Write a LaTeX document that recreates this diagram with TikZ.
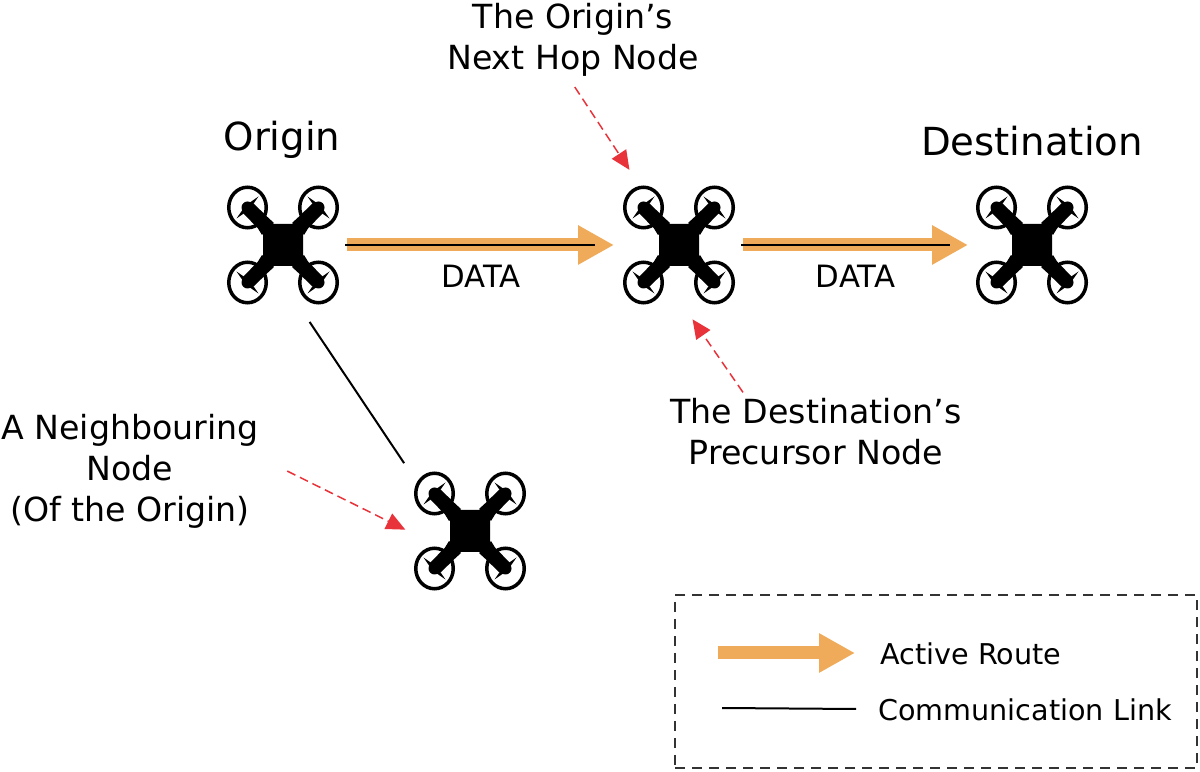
\documentclass[tikz,border=0pt]{standalone}
\usepackage{fontspec}
\setmainfont{DejaVu Sans}
\usepackage{tikz}
\usetikzlibrary{arrows.meta}
\usetikzlibrary{positioning}
\definecolor{routeorange}{HTML}{EFAB5A}
\definecolor{hintred}{HTML}{E8333A}
\tikzset{>=latex}
\tikzset{
  dronebox/.style={rectangle,minimum size=2.48cm,inner sep=0pt,outer sep=0pt},
  bigtext/.style={align=center,font=\fontsize{22pt}{26pt}\selectfont},
  smalltext/.style={align=center,font=\fontsize{18.9pt}{23.4pt}\selectfont},
  datatext/.style={black,font=\fontsize{17.5pt}{20pt}\selectfont},
  legendtext/.style={font=\fontsize{16.3pt}{20pt}\selectfont},
  route/.style={routeorange,line width=0.26cm,-{Triangle[length=0.72cm,width=0.74cm]}},
  link/.style={black,line width=0.04cm},
  hint/.style={hintred,line width=0.03cm,dash pattern=on 0.18cm off 0.1cm,-{Triangle[length=0.38cm,width=0.34cm]}},
  drone/.pic={
    \foreach \sx in {1,-1} {
      \foreach \sy in {1,-1} {
        \begin{scope}[xscale=\sx,yscale=\sy]
          \draw [line width=0.07cm] (0.71,0.75) ellipse (0.375 and 0.405);
          \fill (0.71,0.75) circle (0.12);
          \fill (0.59,0.83) -- (0.80,0.64) -- (0.50,0.33) -- (0.42,0.2) -- (0.18,0.44) -- (0.30,0.55) -- cycle;
          \fill (0.75,0.79) -- (0.93,0.53) -- (0.67,0.71) -- (0.49,0.97) -- cycle;
        \end{scope}
      }
    }
    \fill [rounded corners=0.04cm] (-0.4,-0.42) rectangle (0.4,0.42);
  },
}

\begin{document}
\begin{tikzpicture}
    \useasboundingbox (0,0) rectangle (24,15.42);
    % drones
    \node at (5.66, 10.52) [dronebox] (origin) {};
    \node at (13.58, 10.52) [dronebox] (nexthop) {};
    \node at (20.64, 10.52) [dronebox] (dest) {};
    \node at (9.4, 4.8) [dronebox] (neighbour) {};
    \pic at (origin) {drone};
    \pic at (nexthop) {drone};
    \pic at (dest) {drone};
    \pic at (neighbour) {drone};
    % labels
    \node at (5.64, 12.62) [bigtext] (origin_l) {Origin};
    \node at (20.64, 12.6) [bigtext] (dest_l) {Destination};
    \node at (11.46, 14.62) [smalltext] (nexthop_l) {The Origin’s\\Next Hop Node};
    \node at (16.32, 6.78) [smalltext] (prec_l) {The Destination’s\\Precursor Node};
    \node at (2.6, 6.0) [smalltext] (neigh_l) {A Neighbouring\\Node\\(Of the Origin)};
    % data routes
    \draw [route,shorten <=0.04cm,shorten >=0.06cm] (origin.east) to node[below=0.16cm,datatext] (data_a) {DATA} (nexthop.west);
    \draw [link,shorten >=0.44cm] (origin.east) to (nexthop.west);
    \draw [route,shorten <=0.04cm,shorten >=0.04cm] (nexthop.east) to node[below=0.16cm,datatext] (data_b) {DATA} (dest.west);
    \draw [link,shorten >=0.4cm] (nexthop.east) to (dest.west);
    % link to the neighbour
    \draw [link,shorten <=0.36cm,shorten >=0.14cm] (origin.-75) to (neighbour.north west);
    % red pointers
    \draw [hint,shorten <=0.1cm,shorten >=1.8cm] ([xshift=-0.02cm]nexthop_l.south) to (nexthop.center);
    \draw [hint,shorten >=0.3cm] ([xshift=-1.46cm]prec_l.north) to ([xshift=0.1cm]nexthop.south);
    \draw [hint,shorten <=0.5cm,shorten >=0.06cm] ([yshift=0.22cm]neigh_l.east) to (neighbour.west);
    % legend
    \node at (18.72, 1.79) [rectangle,draw=black!80,dash pattern=on 0.2cm off 0.14cm,line width=0.03cm,minimum width=10.44cm,minimum height=3.46cm] (legend) {};
    \coordinate (route_a) at (14.36, 2.36);
    \coordinate (route_b) at (17.1, 2.36);
    \coordinate (link_a) at (14.44, 1.26);
    \coordinate (link_b) at (17.12, 1.24);
    \draw [route] (route_a) to (route_b);
    \draw [link] (link_a) to (link_b);
    \node at (19.42, 2.34) [legendtext] (route_l) {Active Route};
    \node at (20.5, 1.22) [legendtext] (link_l) {Communication Link};
\end{tikzpicture}
\end{document}
